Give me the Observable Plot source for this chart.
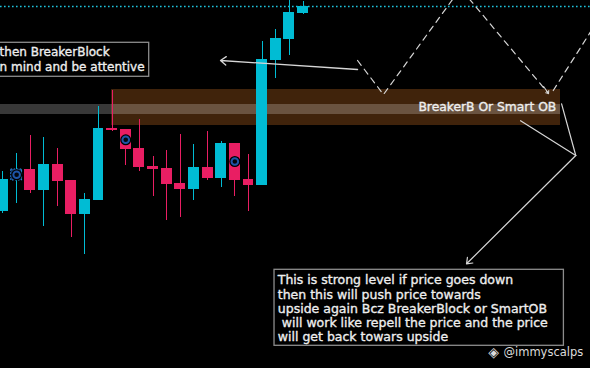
<!DOCTYPE html>
<html>
<head>
<meta charset="utf-8">
<script src="https://cdn.jsdelivr.net/npm/d3@7"></script>
<script src="https://cdn.jsdelivr.net/npm/@observablehq/plot@0.6"></script>
<style>
  html, body { margin: 0; padding: 0; background: #000; overflow: hidden; }
  #chart { width: 590px; height: 368px; }
</style>
</head>
<body>
<div id="chart"></div>
<script>
// ---- candle data (price units) ----
const opens  = [15.7,18.8,19.9,17.8,20.4,18.8,15.4,16.8,24.0,23.9,22.0,20.2,20.0,18.5,17.9,20.1,19.0,22.5,18.9,18.3,30.8,32.9,35.5];
const closes = [18.9,19.9,17.8,20.4,18.7,15.4,16.9,24.0,23.8,21.9,20.1,19.9,18.4,17.9,20.1,19.0,22.5,18.8,18.3,30.9,33.0,35.6,36.2];
const highs  = [19.7,21.5,23.3,23.1,22.0,18.8,17.5,26.2,27.8,23.9,24.9,21.2,21.8,23.4,22.4,23.7,22.7,22.5,21.4,32.7,33.9,37.3,36.7];
const lows   = [15.5,16.5,17.5,14.2,16.2,13.1,11.4,16.8,23.7,20.3,19.7,17.2,14.8,15.1,16.8,18.8,18.1,17.2,15.7,18.3,29.0,31.3,35.4];

// signal markers (candle index, price)
const markerIdx   = [1, 9, 17];
const markerPrice = [19.37, 22.87, 20.7];
const selectedIdx = [1];

// levels / zones
const lastPrice = [36.2];
const zoneBox   = [{x1: 7.96, x2: 40.88, y1: 24.3, y2: 27.9}];
const zoneStrip = [{x1: -0.3, x2: 40.88, y1: 25.4, y2: 26.4}];

// annotation texts
const zoneLabel = "BreakerB Or Smart OB";
const topNote   = ["then BreakerBlock", "in mind and be attentive"];
const bottomNote = [
  "This is strong level if price goes down",
  "then this will push price towards",
  "upside again Bcz BreakerBlock or SmartOB",
  " will work like repell the price and the price",
  "will get back towars upside"
];
const handle = "@immyscalps";

// annotation drawings (in candle-index / price coordinates)
const topBox    = [{x1: -1, x2: 10.72, y1: 29.17, y2: 32.57}];
const bottomBox = [{x1: 19.91, x2: 41.13, y1: 2.27, y2: 9.87}];
const pointerArrow = [{x1: 26.0, y1: 29.9, x2: 15.95, y2: 30.8}];
const zigzag = [
  {leg: 0, x: 26.0, y: 30.8}, {leg: 0, x: 27.9, y: 27.4},
  {leg: 0, x: 33.55, y: 38.0}, {leg: 0, x: 40.0, y: 27.5},
  {leg: 1, x: 40.35, y: 27.8}, {leg: 1, x: 43.8, y: 35.2}
];
const zigzagHead = [{x1: 39.64, y1: 28.2, x2: 40.0, y2: 27.5}];
const calloutLines = [
  {leg: 0, x: 40.96, y: 26.47}, {leg: 0, x: 42.0, y: 21.3},
  {leg: 1, x: 37.95, y: 24.78}, {leg: 1, x: 42.0, y: 21.3}
];
const calloutArrow = [{x1: 42.0, y1: 21.3, x2: 33.99, y2: 10.47}];

// ---- build ----
const UP = "#00BCD4", DOWN = "#E91E63";
const candles = opens.map((o, i) => ({
  i, open: o, close: closes[i], high: highs[i], low: lows[i],
  color: closes[i] >= o ? UP : DOWN
}));
const markers = markerIdx.map((i, k) => ({i, p: markerPrice[k]}));
const selected = selectedIdx.map(i => ({i, open: opens[i], close: closes[i]}));
const FONT = "DejaVu Sans";
const TXT = "#eeeeee";
const LINE = "#d6d6d6";
const semi = {stroke: TXT, strokeWidth: 0.35, fill: TXT, fontFamily: FONT};

const chart = Plot.plot({
  width: 590,
  height: 368,
  margin: 0,
  x: {type: "linear", domain: [-0.183, 43.08], axis: null},
  y: {domain: [0, 36.8], axis: null},
  color: {type: "identity"},
  style: {background: "#000", overflow: "hidden"},
  marks: [
    Plot.rect(zoneBox, {x1: "x1", x2: "x2", y1: "y1", y2: "y2", fill: "#40230b"}),
    Plot.rect(zoneStrip, {x1: "x1", x2: "x2", y1: "y1", y2: "y2", fill: "#ffffff", fillOpacity: 0.22}),
    Plot.ruleY(lastPrice, {stroke: "#1fc3dc", strokeWidth: 1.6, strokeDasharray: "1.6,2.4"}),
    Plot.ruleX(candles, {x: "i", y1: "low", y2: "high", stroke: "color", strokeWidth: 1, shapeRendering: "crispEdges"}),
    Plot.rect(candles, {x1: d => d.i - 0.4, x2: d => d.i + 0.4, y1: "open", y2: "close", fill: "color", shapeRendering: "crispEdges"}),
    Plot.rect(selected, {x1: d => d.i - 0.4, x2: d => d.i + 0.4, y1: "open", y2: "close", fill: "#143d70", stroke: "#2f86e0", strokeWidth: 1, strokeDasharray: "1.5,1.5"}),
    Plot.dot(markers, {x: "i", y: "p", r: 5.5, fill: "#000"}),
    Plot.dot(markers, {x: "i", y: "p", r: 3.3, fill: "#03060c", stroke: "#1d55a8", strokeWidth: 2}),
    // zone label
    Plot.text([zoneLabel], {x: 40.57, y: 26.13, text: d => d, textAnchor: "end", fontSize: 12.3, ...semi}),
    // top-left note
    Plot.rect(topBox, {x1: "x1", x2: "x2", y1: "y1", y2: "y2", fill: "none", stroke: "#8c8c8c", strokeWidth: 1.3}),
    Plot.text([topNote[0]], {x: -0.25, y: 31.6, text: d => d, textAnchor: "start", fontSize: 12, ...semi}),
    Plot.text([topNote[1]], {x: 10.38, y: 30.13, text: d => d, textAnchor: "end", fontSize: 12, ...semi}),
    // arrows and drawings
    Plot.arrow(pointerArrow, {x1: "x1", y1: "y1", x2: "x2", y2: "y2", stroke: LINE, strokeWidth: 1.3, headLength: 8, headAngle: 75}),
    Plot.line(zigzag, {x: "x", y: "y", z: "leg", stroke: LINE, strokeWidth: 1.2, strokeDasharray: "6,5", curve: "linear"}),
    Plot.arrow(zigzagHead, {x1: "x1", y1: "y1", x2: "x2", y2: "y2", stroke: LINE, strokeWidth: 1.1, headLength: 6, headAngle: 80}),
    Plot.line(calloutLines, {x: "x", y: "y", z: "leg", stroke: LINE, strokeWidth: 1.2}),
    Plot.arrow(calloutArrow, {x1: "x1", y1: "y1", x2: "x2", y2: "y2", stroke: LINE, strokeWidth: 1.2, headLength: 8, headAngle: 75}),
    // bottom note
    Plot.rect(bottomBox, {x1: "x1", x2: "x2", y1: "y1", y2: "y2", fill: "#000", stroke: "#8c8c8c", strokeWidth: 1.3}),
    Plot.text([bottomNote.join("\n")], {x: 20.15, y: 6.03, text: d => d, textAnchor: "start", lineAnchor: "middle", lineHeight: 1.13, fontSize: 12.5, ...semi}),
    // watermark
    Plot.text(["◈"], {x: 35.97, y: 1.63, text: d => d, fontFamily: FONT, fontSize: 14, fill: "#dcdcdc"}),
    Plot.text([handle], {x: 36.7, y: 1.63, text: d => d, textAnchor: "start", fontFamily: FONT, fontSize: 11.5, fill: "#dcdcdc"})
  ]
});
document.getElementById("chart").appendChild(chart);
</script>
</body>
</html>
